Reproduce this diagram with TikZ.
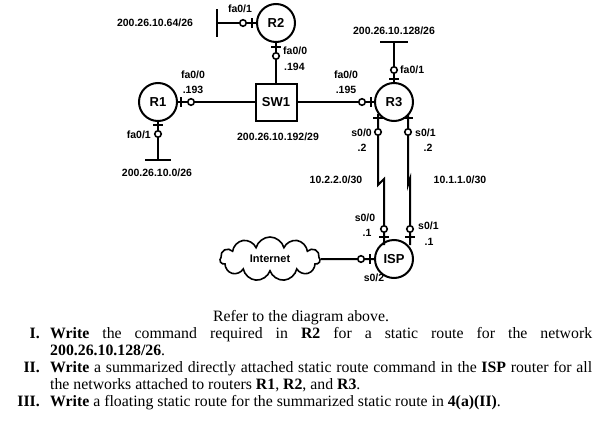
\documentclass[tikz,border=0pt]{standalone}
\usepackage{fontspec}
\setmainfont{Liberation Serif}
\newfontfamily\lab{Liberation Sans}
\usetikzlibrary{shapes.symbols}
\begin{document}
\begin{tikzpicture}[x=1pt,y=-1pt,
  rt/.style={circle,draw,line width=2pt,minimum size=38pt,inner sep=0pt,font=\lab\bfseries\fontsize{13}{14}\selectfont},
  sw/.style={rectangle,draw,line width=2pt,minimum width=41pt,minimum height=37pt,inner sep=0pt,font=\lab\bfseries\fontsize{13}{14}\selectfont},
  lnk/.style={line width=2pt},
  port/.style={circle,draw,line width=1.6pt,fill=white,minimum size=6.5pt,inner sep=0pt},
  lb/.style={font=\lab\bfseries\fontsize{10.5}{11}\selectfont,inner sep=1pt},
  txt/.style={font=\fontsize{15.8}{17}\selectfont,inner sep=0pt,anchor=base west}]
\useasboundingbox (0,0) rectangle (605,447);

% devices
\node[rt] (R2) at (276,23) {R2};
\node[rt] (R1) at (158,102) {R1};
\node[sw] (SW1) at (276,102) {SW1};
\node[rt] (R3) at (394,102) {R3};
\node[rt] (ISP) at (394,259) {ISP};
\node[cloud,draw,line width=1.6pt,cloud puffs=11,aspect=2.5,minimum width=100pt,minimum height=44pt,font=\lab\bfseries\fontsize{11}{12}\selectfont] (NET) at (270,259) {Internet};

% LAN bars
\coordinate (b2) at (217,23);
\coordinate (b3) at (394,42);
\coordinate (b1) at (158,160);
\draw[lnk] (217,9) -- (217,37);
\draw[lnk] (380,42) -- (408,42);
\draw[lnk] (145,160) -- (171,160);

% links
\draw[lnk] (b2) -- (R2);
\draw[lnk] (b3) -- (R3);
\draw[lnk] (b1) -- (R1);
\draw[lnk] (R2) -- (SW1);
\draw[lnk] (R1) -- (SW1);
\draw[lnk] (SW1) -- (R3);
\draw[lnk] (NET) -- (ISP);
\coordinate (s0t) at (378,114);
\coordinate (s1t) at (408,114);
\coordinate (s0b) at (384,245);
\coordinate (s1b) at (410,245);
\draw[lnk] (s0t) -- (378,185) -- (384,179) -- (s0b);
\draw[lnk] (s1t) -- (408,185) -- (410,179) -- (s1b);

% ticks
\draw[lnk] (252,18) -- (252,28);
\draw[lnk] (271,47) -- (281,47);
\draw[lnk] (181,97) -- (181,107);
\draw[lnk] (371,97) -- (371,107);
\draw[lnk] (389,79) -- (399,79);
\draw[lnk] (153,125) -- (163,125);
\draw[lnk] (370,254) -- (370,264);
\draw[lnk] (379,237) -- (389,237);
\draw[lnk] (405,237) -- (415,237);
\draw[lnk] (373,118) -- (383,118);
\draw[lnk] (403,118) -- (413,118);

% ports
\node[port] (p1) at (243,23) {};
\node[port] (p2) at (276,56) {};
\node[port] (p3) at (191,102) {};
\node[port] (p4) at (362,102) {};
\node[port] (p5) at (394,70) {};
\node[port] (p6) at (158,134) {};
\node[port] (p7) at (378,132) {};
\node[port] (p8) at (408,132) {};
\node[port] (p9) at (384,229) {};
\node[port] (p10) at (410,229) {};
\node[port] (p11) at (361,259) {};

% labels
\node[lb] at (240,9) {fa0/1};
\node[lb] at (155,23) {200.26.10.64/26};
\node[lb,anchor=west] at (282,51) {fa0/0};
\node[lb,anchor=west] at (283,67) {.194};
\node[lb] at (193,75) {fa0/0};
\node[lb] at (193,90) {.193};
\node[lb] at (346,75) {fa0/0};
\node[lb] at (346,90) {.195};
\node[lb,anchor=west] at (399,70) {fa0/1};
\node[lb] at (394,31) {200.26.10.128/26};
\node[lb,anchor=east] at (152,135) {fa0/1};
\node[lb] at (157,173) {200.26.10.0/26};
\node[lb] at (278,137) {200.26.10.192/29};
\node[lb,anchor=east] at (373,133) {s0/0};
\node[lb] at (362,148) {.2};
\node[lb,anchor=west] at (414,133) {s0/1};
\node[lb] at (428,148) {.2};
\node[lb] at (336,180) {10.2.2.0/30};
\node[lb] at (460,180) {10.1.1.0/30};
\node[lb] at (365,218) {s0/0};
\node[lb] at (367,233) {.1};
\node[lb,anchor=west] at (417,226) {s0/1};
\node[lb] at (429,242) {.1};
\node[lb] at (374,278) {s0/2};

% question text
\node[txt,anchor=base] (t0) at (301,321) {Refer to the diagram above.};
\node[txt,anchor=base east] (n1) at (40,338) {\textbf{I.}};
\node[txt] (t1) at (50,338) {\makebox[542pt][s]{\textbf{Write} the command required in \textbf{R2} for a static route for the network}};
\node[txt] (t2) at (50,355) {\textbf{200.26.10.128/26}.};
\node[txt,anchor=base east] (n2) at (40,372) {\textbf{II.}};
\node[txt] (t3) at (50,372) {\makebox[542pt][s]{\textbf{Write} a summarized directly attached static route command in the \textbf{ISP} router for all}};
\node[txt] (t4) at (50,389) {the networks attached to routers \textbf{R1}, \textbf{R2}, and \textbf{R3}.};
\node[txt,anchor=base east] (n3) at (40,406) {\textbf{III.}};
\node[txt] (t5) at (50,406) {\textbf{Write} a floating static route for the summarized static route in \textbf{4(a)(II)}.};
\end{tikzpicture}
\end{document}
